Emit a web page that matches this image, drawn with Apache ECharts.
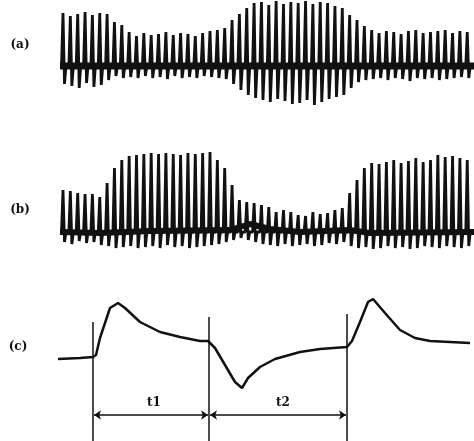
<!DOCTYPE html>
<html><head><meta charset="utf-8">
<script src="https://cdn.jsdelivr.net/npm/echarts@6/dist/echarts.min.js"></script>
<style>html,body{margin:0;background:#fff}#c{width:474px;height:441px}</style>
</head><body><div id="c"></div>
<script>
const spikeStart = 63, spikeStep = 7.35;
const aTop = [13,16,14,12,15,13,14, 22,25, 32,36,33,35,34,32,35,33,34,36,33,31,30,28, 20,14,8, 3,2,5,1,4,2,3,1,4,2,3,6,8, 15,20,26, 30,33,31,32,34,31,30,33,32,31,30,33,31,32];
const aBot = [84,86,88,83,87,85,80, 76,78,77,78,76,78,77,79,76,78,77,78,76,77,78,79, 84,90,95, 98,100,102,99,101,104,103,100,105,102,99,97,95, 88,82,80,79,78,80,78,79,81,78,79,78,80,79,78,77,78];
const aBase = [[60,66],[474,66]];
const bTop = [190,191,193,194,194,197, 183,168,160, 156,155,154,153,154,153,154,155,153,154,153,152,160,168, 185,200,202, 203,205,207,212,210,212,215,216,212,214,213,210,208, 193,180,168, 163,164,162,160,163,161,158,162,160,155,157,156,158,160];
const bBot = [242,244,241,243,242,245,246,248,247,246,248,247,246,248,245,247,246,248,247,246,245,244,242,240,238,240,242,244,245,246,244,246,245,244,246,245,243,244,242,246,248,247,249,248,246,248,247,249,248,246,247,248,246,247,248,246];
const bBase = [[60,232],[100,233],[150,231],[230,230],[250,224],[270,229],[300,232],[350,230],[370,233],[474,232]];
const cLine = [[58,359],[80,358],[93,357],[96,355],[100,338],[110,308],[118,303],[125,308],[140,322],[160,332],[180,337],[200,341],[208,341],[215,348],[225,365],[235,382],[242,388],[248,378],[260,367],[275,359],[300,352],[320,349],[347,347],[352,341],[360,322],[368,302],[373,299],[385,313],[400,330],[415,338],[430,341],[450,342],[470,343]];
const markers = [93,209,347];
const labels = [['(a)',20,45],['(b)',20,210],['(c)',18,347],['t1',154,403],['t2',283,403]];

function zig(top, bot, base){
  const pts=[];
  top.forEach((t,i)=>{const x=spikeStart+i*spikeStep;pts.push([x-1.5,base],[x,t],[x+1.5,bot[i]],[x+3,base]);});
  return pts;
}
const ln = (data,w)=>({type:'line',data,symbol:'none',lineStyle:{color:'#111',width:w},animation:false,z:3});
const chart = echarts.init(document.getElementById('c'));
chart.setOption({
  animation:false,
  grid:{left:0,right:0,top:0,bottom:0},
  xAxis:{type:'value',min:0,max:474,show:false},
  yAxis:{type:'value',min:0,max:441,inverse:true,show:false},
  series:[
    ln(zig(aTop,aBot,66),2.8), ln(aBase,7),
    ln(zig(bTop,bBot,232),2.8), ln(bBase,6),
    ln(cLine,2.5),
    {type:'line',data:[],markLine:{silent:true,symbol:'none',label:{show:false},lineStyle:{color:'#111',width:1.5,type:'solid'},
      data:markers.map(x=>[{coord:[x,x===93?322:(x===209?317:314)]},{coord:[x,441]}])}},
    {type:'line',data:[],markLine:{silent:true,symbol:['arrow','arrow'],symbolSize:7,label:{show:false},lineStyle:{color:'#111',width:1.5,type:'solid'},
      data:[[{coord:[94,415]},{coord:[208,415]}],[{coord:[210,415]},{coord:[346,415]}]]}}
  ],
  graphic: labels.map(([t,x,y])=>({type:'text',x,y,style:{text:t,font:'bold 12px "DejaVu Serif"',fill:'#111',textAlign:'center',textVerticalAlign:'middle'}}))
});
</script></body></html>
